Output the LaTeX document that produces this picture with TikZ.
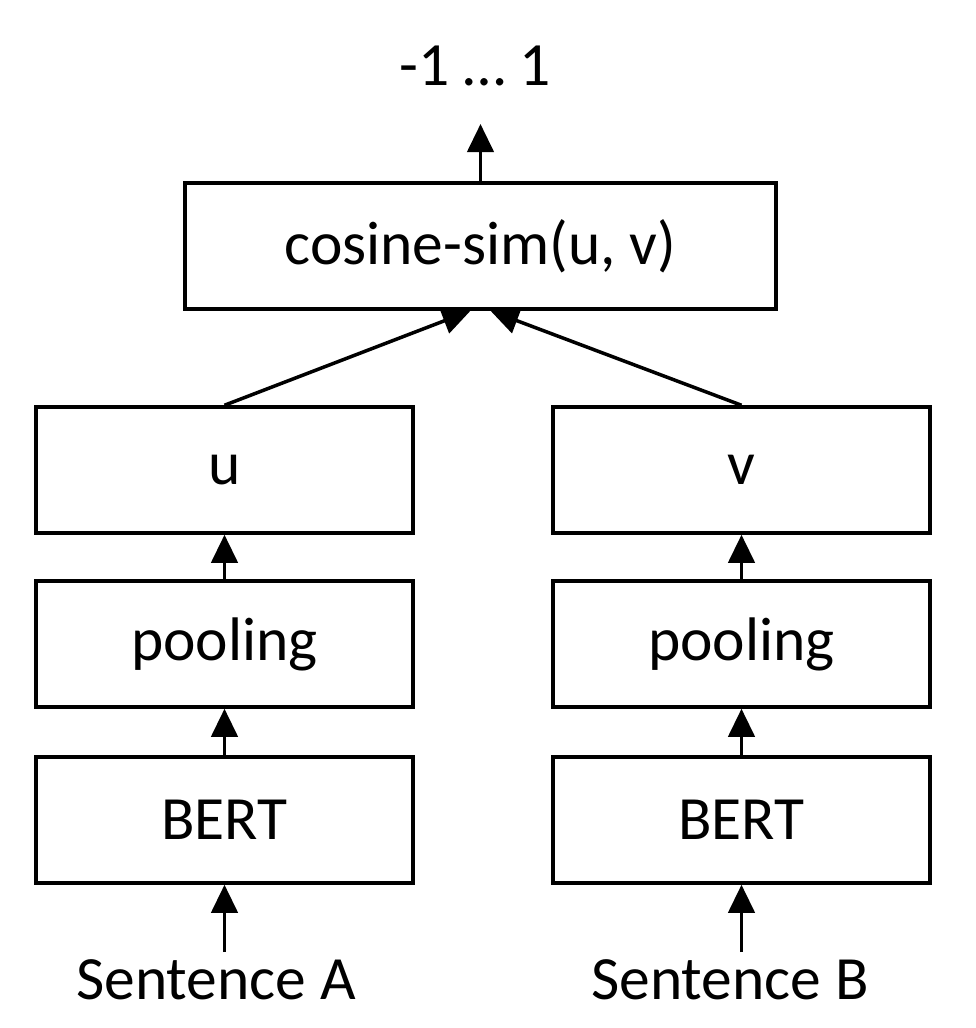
\documentclass[tikz,border=0pt]{standalone}
\usepackage{fontspec}
\setmainfont{Carlito}
\usetikzlibrary{arrows.meta}
\tikzset{
  block/.style={draw, line width=2pt, minimum width=7.54cm, minimum height=2.52cm, inner sep=0pt},
  flow/.style={-{Triangle[width=15pt,length=16pt]}, line width=2pt}
}
\begin{document}
\begin{tikzpicture}[x=0.02cm,y=-0.02cm,font=\fontsize{35}{42}\selectfont]
   \useasboundingbox (0,0) rectangle (976,1028);
   \node[block] (bertA) at (224.5,820) {BERT};
   \node[block] (poolA) at (224.5,644) {pooling};
   \node[block] (u)     at (224.5,470) {u};
   \node[block] (bertB) at (741.5,820) {BERT};
   \node[block] (poolB) at (741.5,644) {pooling};
   \node[block] (v)     at (741.5,470) {v};
   \node[block, minimum width=11.82cm] (cos) at (480.5,246) {cosine-sim(u, v)};
   \node (sentA) at (216,980) {Sentence A};
   \node (sentB) at (730,980) {Sentence B};
   \node (out) at (475,66) {-1 … 1};
   \coordinate (inA) at (224.5,952);
   \coordinate (inB) at (741.5,952);
   \coordinate (top) at (480.5,124);

   \draw[flow] (inA) -- (bertA);
   \draw[flow] (bertA) -- (poolA);
   \draw[flow] (poolA) -- (u);
   \draw[flow] (inB) -- (bertB);
   \draw[flow] (bertB) -- (poolB);
   \draw[flow] (poolB) -- (v);
   \draw[flow] (u.north) -- ([xshift=-0.2cm]cos.south);
   \draw[flow] (v.north) -- ([xshift=0.2cm]cos.south);
   \draw[flow] (cos) -- (top);
\end{tikzpicture}
\end{document}
